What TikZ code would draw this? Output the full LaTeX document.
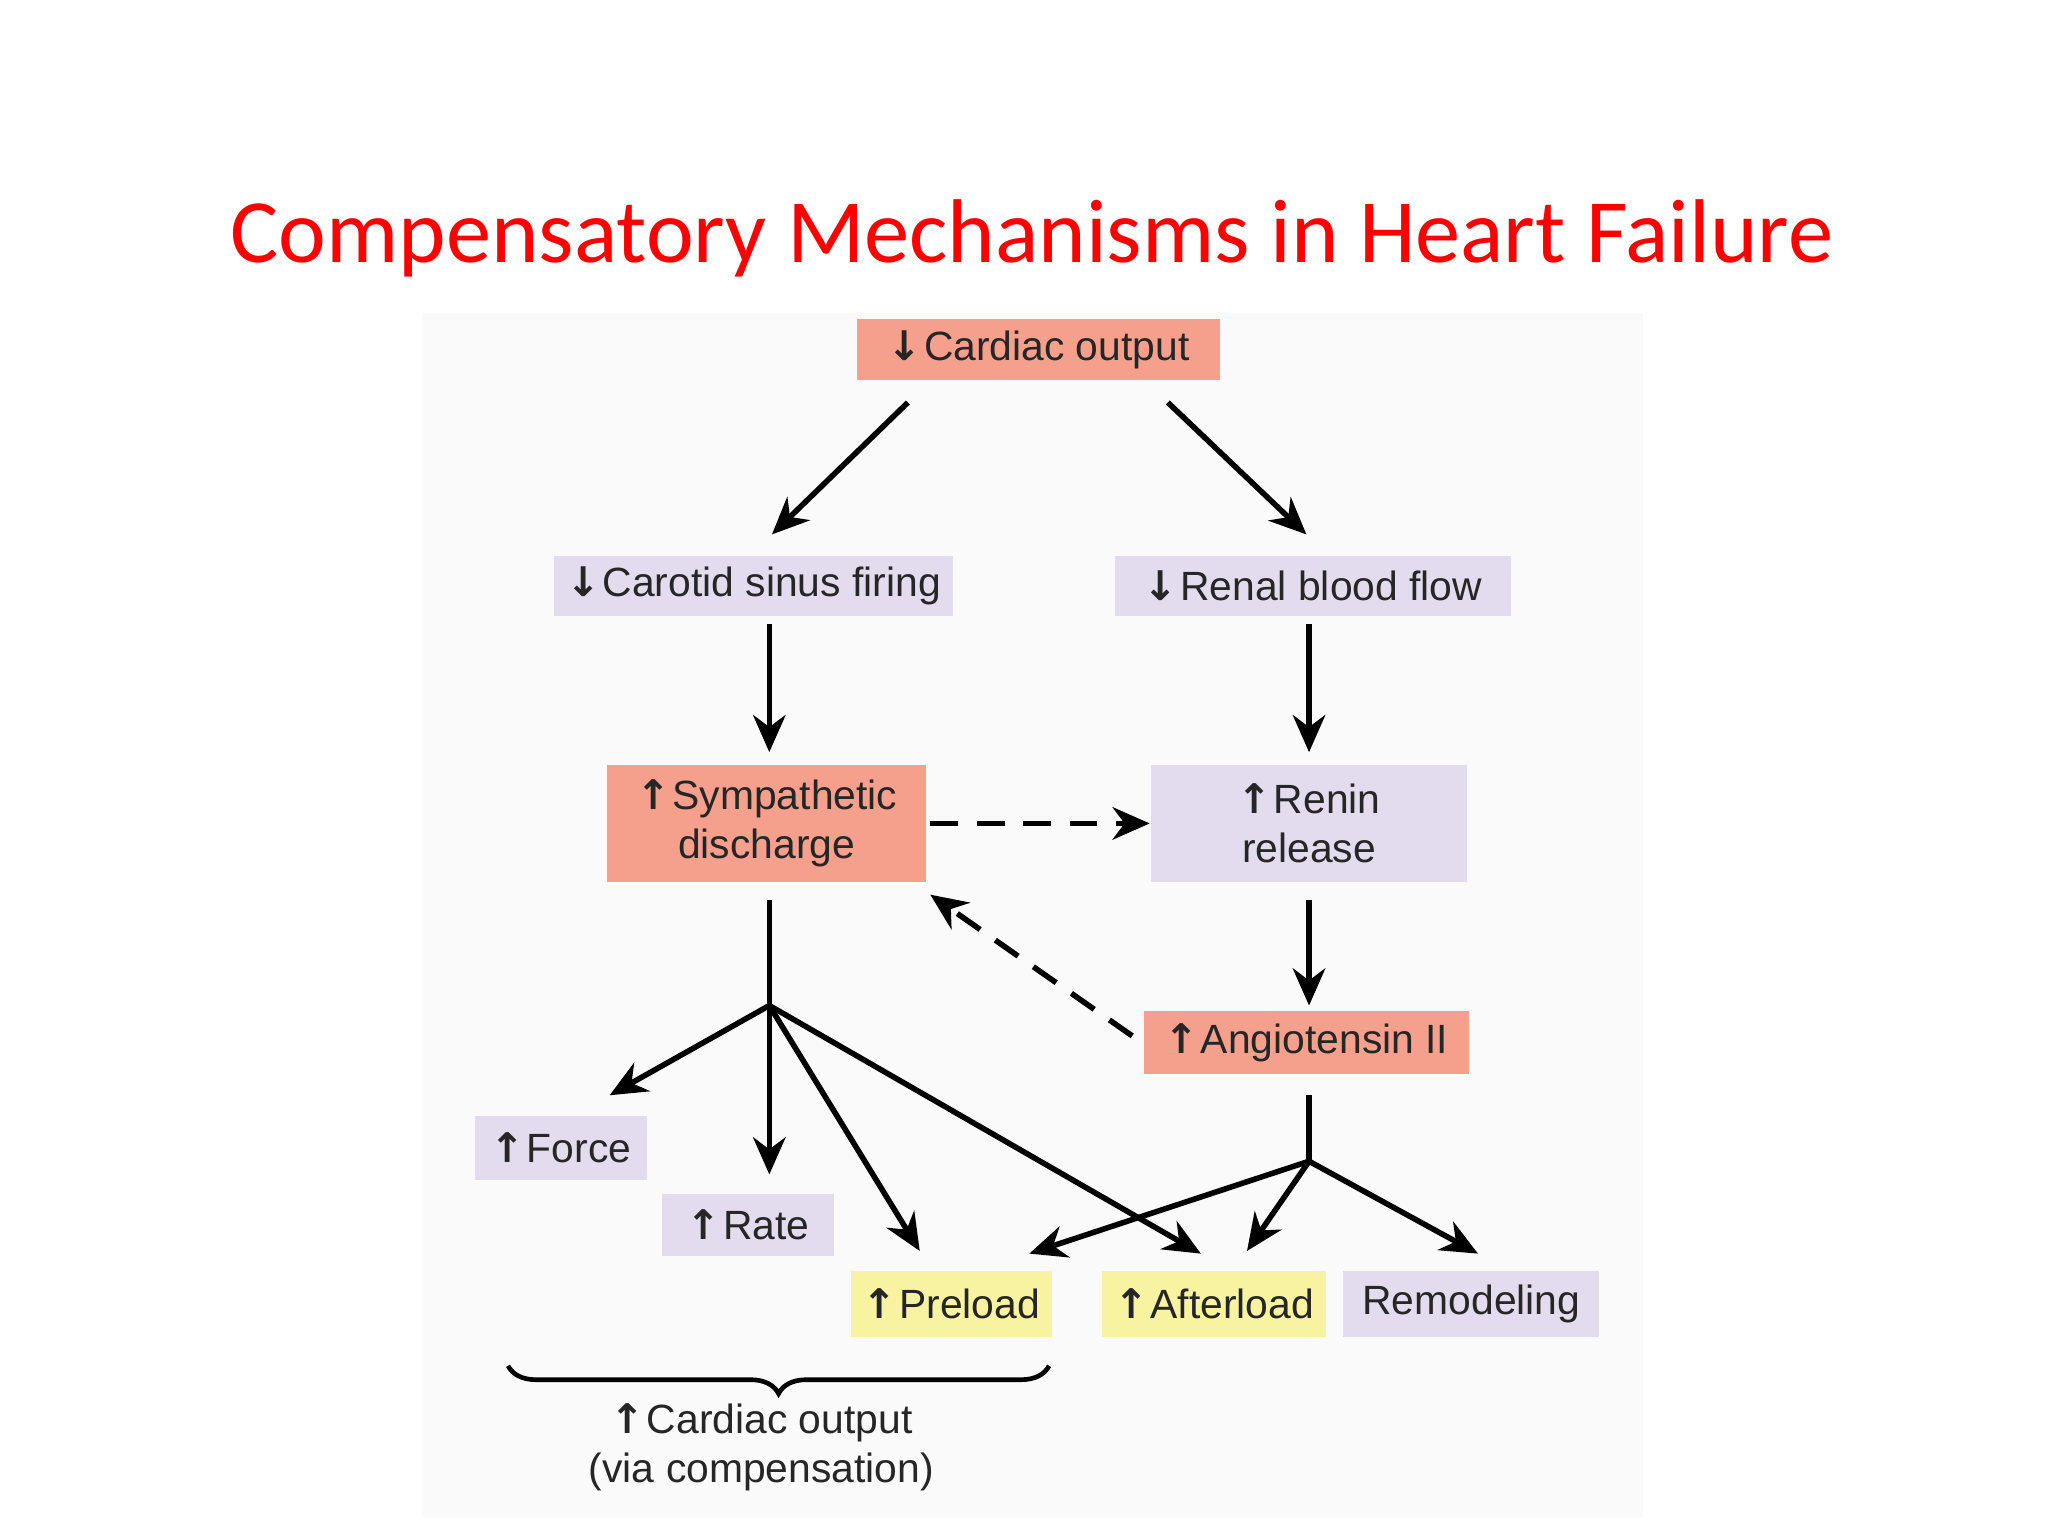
\documentclass[tikz,border=0pt]{standalone}
\usepackage{fontspec}
\setmainfont{Liberation Sans}
\newfontfamily\titlefont{Carlito}
\newfontfamily\symf{DejaVu Sans}
\usetikzlibrary{arrows.meta,decorations.pathreplacing}
\definecolor{salmon}{HTML}{F4A08C}
\definecolor{lav}{HTML}{E2DCEE}
\definecolor{yel}{HTML}{F8F3A0}
\newcommand{\up}{{\symf\bfseries ↑}\kern0.5pt}
\newcommand{\dn}{{\symf\bfseries ↓}\kern0.5pt}
\tikzset{
 bx/.style={inner sep=0pt, align=center, font=\fontsize{8.8}{10.5}\selectfont, text=black!85},
 sal/.style={bx, fill=salmon},
 lv/.style={bx, fill=lav},
 yl/.style={bx, fill=yel},
 ar/.style={line width=1.2pt, -{Stealth[length=8pt,width=7pt]}},
 ln/.style={line width=1.2pt},
 da/.style={ar, dash pattern=on 6pt off 4pt}
}
\begin{document}
\begin{tikzpicture}[x=0.01cm,y=-0.01cm]
\useasboundingbox (0,0) rectangle (1552,1164);
\fill[white] (0,0) rectangle (1552,1164);
\fill[black!2] (320,237) rectangle (1245,1150);
\node[text=red, font=\titlefont\fontsize{19.5}{23}\selectfont] (title) at (782,181) {Compensatory Mechanisms in Heart Failure};
\node[sal, minimum width=2.75cm, minimum height=0.46cm] (co) at (787,265) {\dn Cardiac output};
\node[lv, minimum width=3.02cm, minimum height=0.45cm] (cs) at (571,444) {\dn Carotid sinus firing};
\node[lv, minimum width=3.0cm, minimum height=0.45cm] (rb) at (995,444) {\dn Renal blood flow};
\node[sal, minimum width=2.42cm, minimum height=0.88cm] (sd) at (581,624) {\up Sympathetic\\ discharge};
\node[lv, minimum width=2.4cm, minimum height=0.88cm] (rr) at (992,624) {\up Renin\\ release};
\node[sal, minimum width=2.46cm, minimum height=0.47cm] (an) at (990,790) {\up Angiotensin II};
\node[lv, minimum width=1.3cm, minimum height=0.49cm] (fo) at (425,870) {\up Force};
\node[lv, minimum width=1.3cm, minimum height=0.47cm] (ra) at (567,928) {\up Rate};
\node[yl, minimum width=1.52cm, minimum height=0.5cm] (pl) at (721,988) {\up Preload};
\node[yl, minimum width=1.69cm, minimum height=0.5cm] (al) at (920,988) {\up Afterload};
\node[lv, minimum width=1.94cm, minimum height=0.5cm] (rm) at (1115,988) {Remodeling};
\node[bx, text=black!85] (cc) at (577,1097) {\up Cardiac output\\(via compensation)};
\coordinate (b1) at (385,1035); \coordinate (b2) at (795,1035);
\draw[line width=1pt, decorate, decoration={brace, amplitude=6pt, mirror}] (b1) -- (b2);
\coordinate (a1) at (688,305); \coordinate (a1e) at (585,405);
\coordinate (a2) at (885,305); \coordinate (a2e) at (990,405);
\draw[ar] (a1) -- (a1e);
\draw[ar] (a2) -- (a2e);
\draw[ar] (583,473) -- (583,570);
\draw[ar] (992,473) -- (992,570);
\draw[da] (705,624) -- (rr.west);
\draw[ar] (992,682) -- (992,762);
\draw[da] (858,785) -- (705,678);
\coordinate (j1) at (583,762);
\draw[ln] (583,682) -- (j1);
\draw[ar] (j1) -- (462,830);
\draw[ar] (j1) -- (583,890);
\draw[ar] (j1) -- (697,948);
\draw[ar] (j1) -- (910,950);
\coordinate (j2) at (992,880);
\draw[ln] (992,830) -- (j2);
\draw[ar] (j2) -- (780,950);
\draw[ar] (j2) -- (945,948);
\draw[ar] (j2) -- (1120,950);
\end{tikzpicture}
\end{document}
